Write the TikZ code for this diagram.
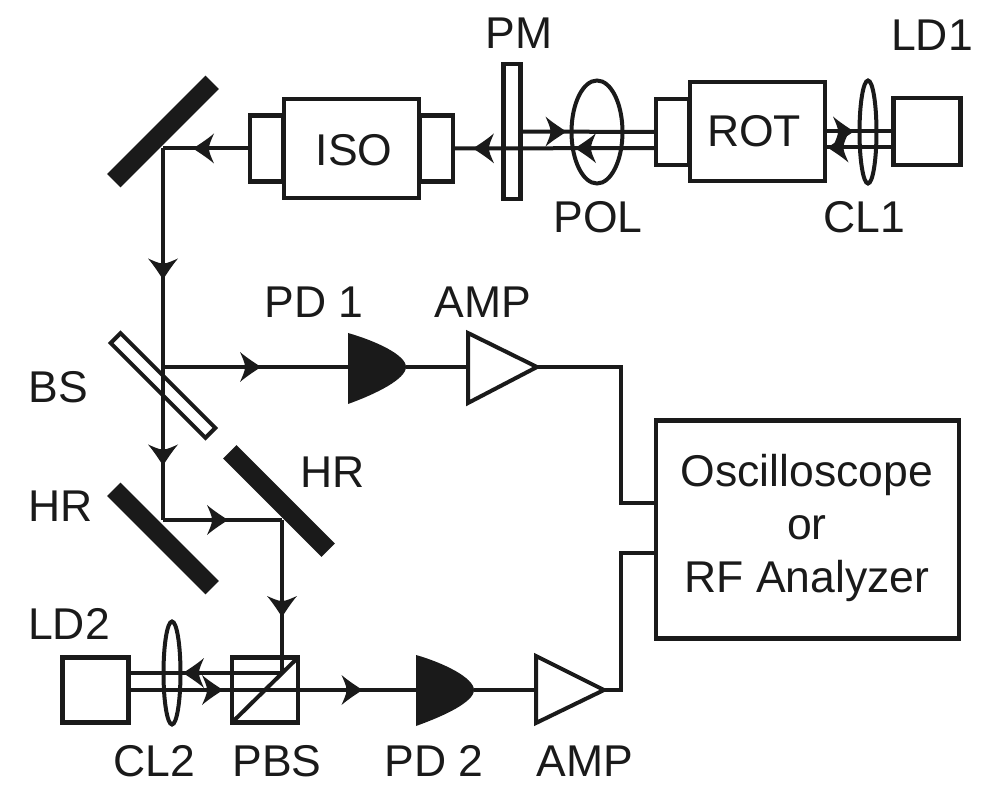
\documentclass[tikz,border=0pt]{standalone}
\usepackage{fontspec}
\setmainfont{Liberation Sans}
\usetikzlibrary{shapes.geometric,decorations.markings}
\definecolor{ink}{HTML}{1A1A1A}
\tikzset{
  every node/.style={inner sep=0pt,outer sep=0pt,text=ink},
  beam/.style={draw=ink,line width=4pt},
  head/.style={postaction={decorate,decoration={markings,mark=at position #1 with {%
    \fill[ink] (0pt,0pt) .. controls (-6pt,4pt) and (-14pt,9pt) .. (-21pt,15pt)
      .. controls (-18pt,8pt) and (-16pt,4pt) .. (-16pt,0pt)
      .. controls (-16pt,-4pt) and (-18pt,-8pt) .. (-21pt,-15pt)
      .. controls (-14pt,-9pt) and (-6pt,-4pt) .. (0pt,0pt) -- cycle;}}}},
  boxed/.style={draw=ink,line width=4.5pt,rectangle},
  lens/.style={draw=ink,line width=4pt,ellipse},
  mirror/.style={fill=ink,rectangle,minimum width=139pt,minimum height=19pt},
  splitter/.style={draw=ink,line width=4pt,rectangle,minimum width=134pt,minimum height=14pt},
  lbl/.style={font=\fontsize{44.5}{44.5}\selectfont,text=ink},
  wire/.style={draw=ink,line width=4pt,line join=miter},
  amp/.style={draw=ink,line width=4pt,line join=miter},
  det/.style={fill=ink}
}
\begin{document}
\begin{tikzpicture}[x=1pt,y=-1pt]
\useasboundingbox (0,0) rectangle (994,791);
% components
\node[boxed,minimum width=67pt,minimum height=67pt] (ld1) at (927,131.5) {};
\node[lens,minimum width=17pt,minimum height=103pt] (cl1) at (868,132) {};
\node[boxed,minimum width=135pt,minimum height=99pt] (rot) at (757.5,131.5) {};
\node[boxed,minimum width=33pt,minimum height=66pt] (rots) at (672.5,132) {};
\node[lens,minimum width=51pt,minimum height=103pt] (pol) at (597,132) {};
\node[boxed,minimum width=17pt,minimum height=135pt] (pm) at (512,131.5) {};
\node[boxed,minimum width=135pt,minimum height=99pt] (iso) at (351.5,148.5) {};
\node[boxed,minimum width=33pt,minimum height=66pt] (isol) at (266.5,148.5) {};
\node[boxed,minimum width=33pt,minimum height=66pt] (isor) at (436.5,148.5) {};
\node[mirror,rotate=45] (m1) at (163,131.5) {};
\node[splitter,rotate=-45] (bs) at (163,385.5) {};
\node[mirror,rotate=-45] (hr1) at (163,538.5) {};
\node[mirror,rotate=-45] (hr2) at (279,501) {};
\node[boxed,minimum width=66pt,minimum height=65pt] (ld2) at (95.5,690) {};
\node[lens,minimum width=17pt,minimum height=103pt] (cl2) at (172,673) {};
\node[boxed,minimum width=66pt,minimum height=65pt] (pbs) at (265,690) {};
\node[boxed,minimum width=303pt,minimum height=218pt] (osc) at (807.5,529.5) {};
% beam points
\coordinate (a) at (163,148.5);
\coordinate (b) at (163,367);
\coordinate (c) at (163,520);
\coordinate (d) at (282,520);
\coordinate (e) at (282,673);
% detectors
\coordinate (pd1) at (348,367);
\coordinate (pd1t) at (406,367);
\coordinate (pd2) at (416,690);
\coordinate (pd2t) at (474,690);
\fill[det] (348,333) .. controls (376,341) and (406,355) .. (pd1t) .. controls (406,379) and (376,394) .. (348,404) -- cycle;
\fill[det] (416,655) .. controls (444,663) and (474,678) .. (pd2t) .. controls (474,702) and (444,716) .. (416,726) -- cycle;
% amplifiers
\coordinate (a1) at (468,367);
\coordinate (a1t) at (537,367);
\coordinate (a2) at (536,690);
\coordinate (a2t) at (604,690);
\draw[amp] (468,333) -- (a1t) -- (468,403) -- cycle;
\draw[amp] (536,656) -- (a2t) -- (536,723) -- cycle;
% beams
\draw[beam,head=57pt] (isol.west) -- (a);
\draw[beam,head=131pt,head=317pt] (a) -- (c);
\draw[beam,head=98pt] (b) -- (pd1);
\draw[beam,head=65pt] (c) -- (d);
\draw[beam,head=97pt] (d) -- (e);
\draw[beam,head=99pt] (e) -- ([yshift=17pt]ld2.east);
\draw[beam,head=94.5pt,head=234pt] (ld2.east) -- (pd2);
\draw[beam,head=46pt] (pm.east) -- (rots.west);
\draw[beam,head=81pt,head=183pt] ([yshift=-16pt]rots.west) -- (isor.east);
\draw[beam,head=29pt] (rot.east) -- (ld1.west);
\draw[beam,head=66pt] ([yshift=-16pt]ld1.west) -- ([yshift=-16pt]rot.east);
\draw[beam] (pbs.south west) -- (pbs.north east);
% electrical
\coordinate (j1) at (621,503);
\coordinate (j2) at (621,553);
\draw[wire] (pd1t) -- (a1);
\draw[wire] (pd2t) -- (a2);
\draw[wire] (a1t) -| (j1) -- ([yshift=26.5pt]osc.west);
\draw[wire] (a2t) -| (j2) -- ([yshift=-23.5pt]osc.west);
% labels
\node[lbl] (tld1) at (932,35) {LD1};
\node[lbl] (tpm) at (519,33) {PM};
\node[lbl] (tpol) at (598,217) {POL};
\node[lbl] (tcl1) at (864,217) {CL1};
\node[lbl] (trot) at (754,131) {ROT};
\node[lbl] (tiso) at (354,150) {ISO};
\node[lbl] (tpd1) at (314,302) {PD 1};
\node[lbl] (tamp1) at (483,302) {AMP};
\node[lbl] (tbs) at (58,387) {BS};
\node[lbl] (thr2) at (333,472) {HR};
\node[lbl] (thr1) at (61,506) {HR};
\node[lbl] (tld2) at (69,624) {LD2};
\node[lbl] (tcl2) at (154,761) {CL2};
\node[lbl] (tpbs) at (277,761) {PBS};
\node[lbl] (tpd2) at (434,761) {PD 2};
\node[lbl] (tamp2) at (585,761) {AMP};
\node[lbl] (to1) at (807,475) {Oscilloscope};
\node[lbl] (to2) at (807,528) {or};
\node[lbl] (to3) at (807,581) {RF Analyzer};
\end{tikzpicture}
\end{document}
